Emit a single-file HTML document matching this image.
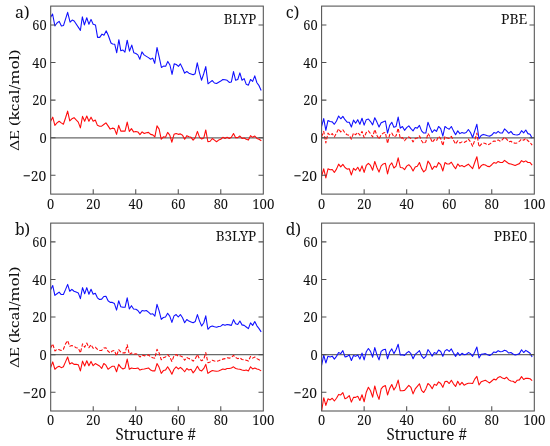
<!DOCTYPE html>
<html><head><meta charset="utf-8"><style>
html,body{margin:0;padding:0;background:#fff;}
body{width:550px;height:446px;overflow:hidden;}
svg{display:block;font-family:'Noto Serif', 'DejaVu Serif', 'Liberation Serif', serif;filter:blur(0.4px);}
</style></head><body>
<svg width="550" height="446" viewBox="0 0 550 446">
<defs>
<clipPath id="ca"><rect x="50.7" y="6.1" width="212.6" height="188"/></clipPath>
<clipPath id="cb"><rect x="50.7" y="223.1" width="212.6" height="187.9"/></clipPath>
<clipPath id="cc"><rect x="321.6" y="6.1" width="212.7" height="188"/></clipPath>
<clipPath id="cd"><rect x="321.6" y="223.1" width="212.7" height="187.9"/></clipPath>
</defs>
<g clip-path="url(#ca)" fill="none" stroke-linejoin="round">
<path d="M50.7 137.9H263.3" stroke="#6a6a6a" stroke-width="1.15"/>
<polyline points="50.62,17.27 52.58,14.00 54.87,25.95 57.00,23.00 59.13,21.36 61.42,25.95 63.55,25.45 67.64,12.36 70.09,22.18 72.22,20.05 74.18,21.04 80.40,30.36 82.36,16.78 84.33,24.96 86.78,17.76 88.91,24.31 91.04,19.40 93.16,24.31 95.46,24.96 97.58,37.40 99.71,37.40 102.00,34.13 103.96,35.27 106.26,30.86 108.22,35.27 111.00,42.96 112.64,43.95 114.76,44.27 116.73,52.78 118.86,39.69 120.82,50.82 122.95,50.00 124.91,52.13 127.20,40.18 129.49,51.15 131.78,45.09 133.84,52.84 135.89,53.55 137.85,54.86 139.82,59.27 141.95,51.91 144.07,54.86 146.36,56.33 148.49,57.64 150.62,59.27 152.75,58.13 154.71,63.36 157.00,47.49 159.13,56.82 161.42,67.46 163.55,66.15 165.67,66.31 167.80,61.40 169.93,65.00 172.06,74.33 174.18,63.86 176.31,64.51 178.44,66.31 180.40,63.86 182.53,68.27 184.66,73.18 186.78,71.55 188.91,73.18 191.04,74.00 193.16,74.82 195.13,73.67 197.26,62.87 199.38,72.36 201.51,80.22 203.64,74.00 205.77,66.64 208.06,83.82 210.18,82.18 212.31,80.55 214.44,83.00 216.57,83.49 220.75,81.09 222.87,79.46 225.00,79.78 227.13,80.27 229.26,82.40 231.38,81.91 233.51,71.60 235.64,80.27 237.76,79.46 239.89,72.91 242.02,80.27 244.15,78.64 246.27,84.36 248.40,85.18 250.53,79.46 252.66,81.42 254.78,75.86 256.91,82.73 259.04,85.67 261.17,90.42" stroke="#1010ff" stroke-width="1.08"/>
<polyline points="50.62,121.27 52.75,117.18 54.87,125.36 57.00,122.91 59.13,121.27 61.25,122.91 63.38,124.22 65.51,118.00 67.64,111.13 69.76,120.95 71.89,118.82 74.02,117.67 76.15,119.96 78.27,122.09 80.40,127.82 82.53,116.36 84.66,121.27 86.78,116.04 88.91,121.27 91.04,117.18 93.16,121.27 95.29,119.96 97.42,125.36 99.55,126.18 101.67,126.18 103.80,124.55 105.93,122.91 108.06,125.86 110.18,129.13 112.31,128.15 114.44,128.64 116.56,134.36 118.69,125.36 120.82,131.09 122.95,131.09 125.07,131.09 127.20,122.09 129.33,131.42 131.46,128.64 133.58,131.91 135.89,131.42 137.85,131.91 139.98,134.69 142.11,131.91 144.24,133.55 146.36,132.73 148.49,132.40 150.62,134.36 152.75,134.86 154.87,136.82 157.00,125.86 159.13,129.13 161.26,139.27 163.38,136.82 165.51,137.31 167.64,132.40 169.76,135.18 171.89,142.22 174.02,134.36 176.15,133.55 178.27,134.36 180.40,133.87 182.53,135.18 184.66,139.27 186.78,135.67 188.91,136.82 191.04,137.31 193.16,140.09 195.29,137.64 197.42,131.42 199.55,137.31 201.67,138.95 203.80,137.96 205.77,129.95 207.89,141.73 210.18,141.24 212.31,138.46 214.44,140.09 216.57,141.73 218.62,140.09 220.75,139.27 222.87,137.31 225.00,138.46 227.13,137.31 229.26,138.46 231.38,137.31 233.51,133.55 235.64,137.64 237.76,137.64 239.89,136.00 242.02,138.46 244.15,137.96 246.27,139.27 248.40,140.09 250.53,135.67 252.66,137.31 254.78,136.00 256.91,138.46 259.04,139.27 261.33,140.75" stroke="#ff0a0a" stroke-width="1.08"/>
</g>
<rect x="50.7" y="6.1" width="212.6" height="188" fill="none" stroke="#505050" stroke-width="1.05"/>
<path d="M50.7 175.3h4.8M263.3 175.3h-4.8M50.7 137.7h4.8M263.3 137.7h-4.8M50.7 100.1h4.8M263.3 100.1h-4.8M50.7 62.5h4.8M263.3 62.5h-4.8M50.7 24.9h4.8M263.3 24.9h-4.8M93.22 194.1v-4.8M135.74 194.1v-4.8M178.26 194.1v-4.8M220.78 194.1v-4.8" stroke="#505050" stroke-width="1.05" fill="none"/>
<g clip-path="url(#cb)" fill="none" stroke-linejoin="round">
<path d="M50.7 354.63H263.3" stroke="#6a6a6a" stroke-width="1.15"/>
<polyline points="50.62,289.64 52.75,285.55 54.87,295.36 57.00,293.73 59.13,292.09 61.25,294.55 63.38,294.55 65.51,289.64 67.64,284.40 69.76,291.27 71.89,289.31 74.02,291.27 76.15,292.09 78.27,292.91 80.40,298.64 82.53,287.67 84.66,293.73 86.78,287.67 88.91,294.22 91.04,289.31 93.16,294.22 95.29,293.24 97.42,297.82 99.55,299.46 101.67,299.13 103.80,296.51 105.93,296.18 108.06,300.76 110.18,302.40 112.31,302.40 114.44,303.55 116.56,310.09 118.69,300.76 120.82,306.82 122.95,307.31 125.07,307.31 127.20,297.82 129.33,308.95 131.46,305.67 133.58,308.95 135.89,309.31 137.85,310.45 139.98,313.40 142.11,310.45 144.24,310.95 146.36,310.45 148.49,312.09 150.62,314.22 152.75,313.73 154.87,316.18 157.00,304.40 159.13,310.95 161.26,319.46 163.38,317.49 165.51,317.00 167.64,313.24 169.76,316.18 171.89,322.40 174.02,315.86 176.15,314.55 178.27,317.00 180.40,314.55 182.53,317.82 184.66,322.73 186.78,319.46 188.91,321.09 191.04,321.91 193.16,322.73 195.29,321.42 197.42,314.55 199.55,321.09 201.67,326.00 203.80,322.73 205.77,315.86 207.89,329.27 210.18,326.82 212.31,326.00 214.44,326.82 216.57,327.31 218.62,326.51 220.75,326.18 222.87,324.55 225.00,325.36 227.13,324.55 229.26,324.87 231.38,325.36 233.51,319.64 235.64,323.73 237.76,324.55 239.89,320.95 242.02,324.87 244.15,325.36 246.27,327.00 248.40,328.64 250.53,322.91 252.66,325.36 254.78,321.60 256.91,325.86 259.04,328.64 261.17,331.91" stroke="#1010ff" stroke-width="1.08"/>
<polyline points="50.62,348.00 52.75,343.91 54.87,350.95 57.00,349.31 59.13,349.64 61.25,350.45 63.38,349.31 65.51,343.91 67.64,340.64 69.76,346.36 71.89,345.55 74.02,346.36 76.15,347.67 78.27,348.00 80.40,352.91 82.53,343.91 84.66,347.18 86.78,343.09 88.91,347.67 91.04,344.73 93.16,348.33 95.29,347.18 97.42,349.31 99.55,350.45 101.67,350.45 103.80,348.00 105.93,347.67 108.06,351.27 110.18,352.91 112.31,350.95 114.44,350.45 116.56,355.86 118.69,349.64 120.82,352.09 122.95,352.91 125.07,352.91 127.20,344.73 129.33,354.55 131.46,352.91 133.58,354.22 135.89,353.73 137.85,354.55 139.98,357.00 142.11,354.87 144.24,355.86 146.36,355.36 148.49,354.87 150.62,357.00 152.75,357.82 154.87,358.15 157.00,349.31 159.13,352.91 161.26,359.78 163.38,357.82 165.51,357.00 167.64,354.55 169.76,357.00 171.89,361.42 174.02,355.86 176.15,354.55 178.27,356.18 180.40,355.86 182.53,357.00 184.66,360.27 186.78,357.49 188.91,358.64 191.04,359.13 193.16,361.09 195.29,358.64 197.42,354.55 199.55,359.13 201.67,360.76 203.80,359.13 205.77,352.58 207.89,362.73 210.18,361.91 212.31,360.27 214.44,361.09 216.57,361.42 218.62,360.76 220.75,359.78 222.87,359.13 225.00,358.64 227.13,357.82 229.26,358.15 231.38,357.49 233.51,355.36 235.64,357.49 237.76,358.64 239.89,357.82 242.02,359.46 244.15,359.78 246.27,360.27 248.40,361.09 250.53,356.51 252.66,358.15 254.78,357.00 256.91,358.64 259.04,359.78 261.17,361.42" stroke="#ff0a0a" stroke-width="1.08" stroke-dasharray="3.6,1.7"/>
<polyline points="50.62,367.64 52.75,361.91 54.87,369.27 57.00,367.31 59.13,366.33 61.25,367.64 63.38,366.82 65.51,361.91 67.64,357.00 69.76,364.04 71.89,362.73 74.02,364.36 76.15,364.36 78.27,364.69 80.40,370.91 82.53,361.09 84.66,366.00 86.78,360.76 88.91,365.67 91.04,361.42 93.16,365.67 95.29,363.55 97.42,364.69 99.55,366.00 101.67,368.46 103.80,363.55 105.93,365.18 108.06,369.27 110.18,367.64 112.31,366.33 114.44,366.33 116.56,371.73 118.69,364.36 120.82,367.31 122.95,368.95 125.07,367.96 127.20,359.13 129.33,369.27 131.46,367.96 133.58,368.46 135.89,368.46 137.85,367.96 139.98,370.09 142.11,369.27 144.24,368.95 146.36,368.46 148.49,367.96 150.62,370.09 152.75,370.91 154.87,370.91 157.00,363.55 159.13,367.31 161.26,373.36 163.38,370.58 165.51,370.09 167.64,366.82 169.76,370.09 171.89,374.18 174.02,369.27 176.15,366.82 178.27,368.95 180.40,367.31 182.53,369.27 184.66,371.73 186.78,368.46 188.91,370.09 191.04,369.27 193.16,372.87 195.29,370.09 197.42,366.33 199.55,370.09 201.67,370.91 203.80,368.46 205.77,364.36 207.89,373.36 210.18,371.73 212.31,370.58 214.44,370.91 216.57,371.24 218.62,370.91 220.75,370.09 222.87,368.95 225.00,369.60 227.13,368.46 229.26,368.46 231.38,367.96 233.51,366.82 235.64,368.46 237.76,368.95 239.89,369.27 242.02,370.09 244.15,370.58 246.27,370.09 248.40,370.91 250.53,366.82 252.66,368.95 254.78,367.96 256.91,368.95 259.04,369.60 261.17,370.91" stroke="#ff0a0a" stroke-width="1.08"/>
</g>
<rect x="50.7" y="223.1" width="212.6" height="187.9" fill="none" stroke="#505050" stroke-width="1.05"/>
<path d="M50.7 392.21h4.8M263.3 392.21h-4.8M50.7 354.63h4.8M263.3 354.63h-4.8M50.7 317.05h4.8M263.3 317.05h-4.8M50.7 279.47h4.8M263.3 279.47h-4.8M50.7 241.89h4.8M263.3 241.89h-4.8M93.22 411.0v-4.8M135.74 411.0v-4.8M178.26 411.0v-4.8M220.78 411.0v-4.8" stroke="#505050" stroke-width="1.05" fill="none"/>
<g clip-path="url(#cc)" fill="none" stroke-linejoin="round">
<path d="M321.6 137.9H534.3" stroke="#6a6a6a" stroke-width="1.15"/>
<polyline points="321.60,126.48 323.73,118.57 325.85,130.33 327.98,120.44 330.11,121.54 332.24,121.87 334.36,124.29 336.49,120.99 338.62,116.04 340.74,118.79 342.87,116.37 345.00,119.67 347.12,122.09 349.25,122.31 351.38,127.03 353.50,120.11 355.63,123.19 357.76,119.67 359.89,124.29 362.01,118.24 364.14,125.16 366.27,119.67 368.39,119.01 370.52,121.54 372.65,124.84 374.78,117.69 376.90,122.09 379.03,127.03 381.16,122.64 383.28,121.87 385.41,120.99 387.54,133.08 389.66,125.38 391.79,122.31 393.92,127.36 396.05,126.48 398.17,117.14 400.30,128.13 402.43,126.48 404.55,130.33 406.68,127.58 408.81,125.93 410.93,128.68 413.06,130.88 415.19,127.58 417.31,128.13 419.44,125.38 421.57,130.88 423.70,133.08 425.82,133.08 427.95,122.31 430.08,127.58 432.20,132.53 434.33,129.78 436.46,131.43 438.59,126.48 440.71,128.68 442.84,136.15 444.97,126.48 447.09,128.13 449.22,129.23 451.35,126.48 453.47,130.88 455.60,134.73 457.73,130.88 459.86,133.63 461.98,132.53 464.11,133.30 466.24,132.53 468.36,129.56 470.49,132.53 472.62,137.47 474.74,130.88 476.87,124.29 479.00,138.79 481.12,135.49 483.25,134.40 485.38,135.05 487.51,135.82 489.63,136.15 491.76,135.05 493.89,132.53 496.01,133.30 498.14,131.43 500.27,133.08 502.39,133.08 504.52,128.90 506.65,130.88 508.78,133.30 510.90,131.43 513.03,134.18 515.16,134.73 517.28,135.05 519.41,134.18 521.54,130.66 523.66,132.86 525.79,130.00 527.92,133.63 530.05,134.18 532.17,138.35" stroke="#1010ff" stroke-width="1.08"/>
<polyline points="321.60,136.92 323.73,131.43 325.85,142.97 327.98,133.08 330.11,135.27 332.24,133.63 334.36,136.92 336.49,133.08 338.62,128.90 340.74,131.98 342.87,129.78 345.00,133.08 347.12,134.73 349.25,135.27 351.38,139.12 353.50,133.08 355.63,134.73 357.76,132.53 359.89,135.27 362.01,131.43 364.14,137.47 366.27,132.53 368.39,130.88 370.52,133.63 372.65,136.92 374.78,129.56 376.90,135.27 379.03,139.12 381.16,134.73 383.28,133.08 385.41,132.53 387.54,143.52 389.66,134.73 391.79,133.08 393.92,136.92 396.05,135.82 398.17,128.13 400.30,138.57 402.43,137.47 404.55,140.77 406.68,138.02 408.81,136.92 410.93,138.57 413.06,141.87 415.19,138.57 417.31,138.02 419.44,135.82 421.57,140.77 423.70,143.52 425.82,141.87 427.95,133.30 430.08,136.92 432.20,142.42 434.33,139.67 436.46,140.77 438.59,136.37 440.71,138.57 442.84,145.71 444.97,136.37 447.09,138.02 449.22,138.57 451.35,136.37 453.47,140.22 455.60,144.07 457.73,140.77 459.86,142.97 461.98,141.87 464.11,142.42 466.24,141.32 468.36,139.12 470.49,141.87 472.62,146.26 474.74,140.22 476.87,133.08 479.00,146.81 481.12,144.29 483.25,142.97 485.38,143.52 487.51,144.95 489.63,144.07 491.76,142.42 493.89,140.99 496.01,141.32 498.14,139.89 500.27,141.32 502.39,139.67 504.52,137.25 506.65,139.12 508.78,141.87 510.90,141.32 513.03,142.75 515.16,143.19 517.28,142.97 519.41,141.32 521.54,139.12 523.66,140.22 525.79,138.35 527.92,140.77 530.05,142.42 532.17,145.16" stroke="#ff0a0a" stroke-width="1.08" stroke-dasharray="3.6,1.7"/>
<polyline points="321.60,176.26 323.73,168.79 325.85,177.91 327.98,168.79 330.11,169.67 332.24,169.45 334.36,172.42 336.49,169.12 338.62,164.18 340.74,166.92 342.87,164.40 345.00,167.47 347.12,169.12 349.25,168.79 351.38,174.95 353.50,168.35 355.63,170.22 357.76,167.25 359.89,171.32 362.01,165.82 364.14,172.42 366.27,165.49 368.39,163.30 370.52,165.49 372.65,170.22 374.78,161.43 376.90,167.47 379.03,172.09 381.16,165.82 383.28,163.96 385.41,163.30 387.54,173.85 389.66,165.49 391.79,162.86 393.92,168.02 396.05,166.15 398.17,157.80 400.30,167.47 402.43,167.69 404.55,169.67 406.68,166.15 408.81,164.73 410.93,166.92 413.06,170.99 415.19,166.92 417.31,166.15 419.44,162.53 421.57,168.35 423.70,171.87 425.82,169.89 427.95,161.10 430.08,164.18 432.20,169.45 434.33,166.37 436.46,167.25 438.59,162.53 440.71,164.73 442.84,170.99 444.97,162.53 447.09,163.96 449.22,163.96 451.35,162.20 453.47,165.82 455.60,168.79 457.73,163.96 459.86,166.37 461.98,165.49 464.11,166.92 466.24,165.49 468.36,164.18 470.49,166.37 472.62,168.57 474.74,162.53 476.87,156.70 479.00,168.79 481.12,165.82 483.25,164.40 485.38,165.05 487.51,166.37 489.63,166.59 491.76,164.73 493.89,162.53 496.01,163.30 498.14,161.43 500.27,162.53 502.39,162.53 504.52,160.33 506.65,161.98 508.78,163.63 510.90,163.96 513.03,164.73 515.16,165.49 517.28,164.40 519.41,163.63 521.54,160.66 523.66,161.98 525.79,160.88 527.92,162.53 530.05,162.53 532.17,165.05" stroke="#ff0a0a" stroke-width="1.08"/>
</g>
<rect x="321.6" y="6.1" width="212.7" height="188" fill="none" stroke="#505050" stroke-width="1.05"/>
<path d="M321.6 175.3h4.8M534.3 175.3h-4.8M321.6 137.7h4.8M534.3 137.7h-4.8M321.6 100.1h4.8M534.3 100.1h-4.8M321.6 62.5h4.8M534.3 62.5h-4.8M321.6 24.9h4.8M534.3 24.9h-4.8M364.14 194.1v-4.8M406.68 194.1v-4.8M449.22 194.1v-4.8M491.76 194.1v-4.8" stroke="#505050" stroke-width="1.05" fill="none"/>
<g clip-path="url(#cd)" fill="none" stroke-linejoin="round">
<path d="M321.6 354.63H534.3" stroke="#6a6a6a" stroke-width="1.15"/>
<polyline points="321.60,365.38 323.73,355.05 325.85,362.97 327.98,356.15 330.11,356.92 332.24,356.15 334.36,359.12 336.49,356.37 338.62,352.53 340.74,353.63 342.87,350.66 345.00,356.92 347.12,356.37 349.25,355.05 351.38,360.55 353.50,355.49 355.63,356.37 357.76,355.05 359.89,359.12 362.01,353.08 364.14,359.89 366.27,351.76 368.39,348.46 370.52,351.43 372.65,357.25 374.78,347.58 376.90,354.73 379.03,359.89 381.16,351.43 383.28,349.78 385.41,349.23 387.54,358.79 389.66,351.98 391.79,348.90 393.92,353.63 396.05,349.78 398.17,344.29 400.30,355.05 402.43,354.73 404.55,355.49 406.68,352.86 408.81,351.43 410.93,353.63 413.06,358.79 415.19,354.40 417.31,352.53 419.44,350.66 421.57,355.82 423.70,358.35 425.82,356.37 427.95,349.56 430.08,352.53 432.20,356.15 434.33,352.53 436.46,353.63 438.59,350.00 440.71,351.43 442.84,356.37 444.97,350.88 447.09,349.56 449.22,351.43 451.35,348.90 453.47,353.08 455.60,356.37 457.73,352.53 459.86,355.49 461.98,353.30 464.11,354.73 466.24,354.40 468.36,352.53 470.49,353.63 472.62,356.37 474.74,351.98 476.87,347.03 479.00,358.02 481.12,354.40 483.25,353.96 485.38,353.63 487.51,354.73 489.63,355.49 491.76,354.18 493.89,351.98 496.01,352.53 498.14,350.66 500.27,351.76 502.39,351.43 504.52,350.33 506.65,351.10 508.78,353.08 510.90,352.53 513.03,353.96 515.16,355.05 517.28,354.40 519.41,353.63 521.54,349.78 523.66,352.53 525.79,350.33 527.92,351.76 530.05,353.30 532.17,356.92" stroke="#1010ff" stroke-width="1.08"/>
<polyline points="321.60,411.23 323.73,397.71 325.85,405.41 327.98,398.81 330.11,399.91 332.24,398.26 334.36,401.01 336.49,398.26 338.62,394.42 340.74,394.97 342.87,392.55 345.00,398.81 347.12,397.71 349.25,395.52 351.38,402.11 353.50,397.38 355.63,397.38 357.76,396.29 359.89,400.46 362.01,394.75 364.14,401.78 366.27,392.22 368.39,387.27 370.52,390.79 372.65,397.16 374.78,385.96 376.90,393.87 379.03,399.36 381.16,388.92 383.28,386.40 385.41,385.63 387.54,394.97 389.66,388.37 391.79,384.53 393.92,390.02 396.05,386.40 398.17,380.13 400.30,390.79 402.43,390.79 404.55,390.35 406.68,387.82 408.81,385.30 410.93,387.49 413.06,393.87 415.19,388.92 417.31,386.40 419.44,383.76 421.57,390.35 423.70,392.55 425.82,388.92 427.95,383.52 430.08,385.38 432.20,388.68 434.33,384.29 436.46,385.38 438.59,381.87 440.71,383.52 442.84,387.36 444.97,381.65 447.09,381.32 449.22,383.52 451.35,380.22 453.47,383.85 455.60,386.48 457.73,381.32 459.86,384.95 461.98,382.42 464.11,385.16 466.24,384.07 468.36,383.19 470.49,383.19 472.62,383.52 474.74,379.12 476.87,376.37 479.00,384.95 481.12,381.87 483.25,380.99 485.38,380.22 487.51,381.65 489.63,382.97 491.76,380.99 493.89,379.12 496.01,379.89 498.14,377.47 500.27,376.59 502.39,378.02 504.52,378.79 506.65,377.25 508.78,379.89 510.90,380.99 513.03,381.32 515.16,382.75 517.28,380.22 519.41,379.89 521.54,376.59 523.66,379.45 525.79,378.35 527.92,378.35 530.05,378.79 532.17,380.55" stroke="#ff0a0a" stroke-width="1.08"/>
</g>
<rect x="321.6" y="223.1" width="212.7" height="187.9" fill="none" stroke="#505050" stroke-width="1.05"/>
<path d="M321.6 392.21h4.8M534.3 392.21h-4.8M321.6 354.63h4.8M534.3 354.63h-4.8M321.6 317.05h4.8M534.3 317.05h-4.8M321.6 279.47h4.8M534.3 279.47h-4.8M321.6 241.89h4.8M534.3 241.89h-4.8M364.14 411.0v-4.8M406.68 411.0v-4.8M449.22 411.0v-4.8M491.76 411.0v-4.8" stroke="#505050" stroke-width="1.05" fill="none"/>
<g fill="#111">
<text x="46.2" y="180.65" text-anchor="end" font-size="14" textLength="23.5" lengthAdjust="spacingAndGlyphs">−20</text>
<text x="46.65" y="143.05" text-anchor="end" font-size="14" textLength="7.16" lengthAdjust="spacingAndGlyphs">0</text>
<text x="46.65" y="105.45" text-anchor="end" font-size="14" textLength="14.31" lengthAdjust="spacingAndGlyphs">20</text>
<text x="46.65" y="67.85" text-anchor="end" font-size="14" textLength="14.31" lengthAdjust="spacingAndGlyphs">40</text>
<text x="46.65" y="30.25" text-anchor="end" font-size="14" textLength="14.31" lengthAdjust="spacingAndGlyphs">60</text>
<text x="50.7" y="208.5" text-anchor="middle" font-size="14" textLength="7.16" lengthAdjust="spacingAndGlyphs">0</text>
<text x="93.22" y="208.5" text-anchor="middle" font-size="14" textLength="14.31" lengthAdjust="spacingAndGlyphs">20</text>
<text x="135.74" y="208.5" text-anchor="middle" font-size="14" textLength="14.31" lengthAdjust="spacingAndGlyphs">40</text>
<text x="178.26" y="208.5" text-anchor="middle" font-size="14" textLength="14.31" lengthAdjust="spacingAndGlyphs">60</text>
<text x="220.78" y="208.5" text-anchor="middle" font-size="14" textLength="14.31" lengthAdjust="spacingAndGlyphs">80</text>
<text x="263.3" y="208.5" text-anchor="middle" font-size="14" textLength="22.2" lengthAdjust="spacingAndGlyphs">100</text>
<text x="256.3" y="23.5" text-anchor="end" font-size="13.8" textLength="32.6" lengthAdjust="spacingAndGlyphs">BLYP</text>
<text x="14.9" y="18.2" text-anchor="start" font-size="16">a)</text>
<text x="46.2" y="397.56" text-anchor="end" font-size="14" textLength="23.5" lengthAdjust="spacingAndGlyphs">−20</text>
<text x="46.65" y="359.98" text-anchor="end" font-size="14" textLength="7.16" lengthAdjust="spacingAndGlyphs">0</text>
<text x="46.65" y="322.4" text-anchor="end" font-size="14" textLength="14.31" lengthAdjust="spacingAndGlyphs">20</text>
<text x="46.65" y="284.82" text-anchor="end" font-size="14" textLength="14.31" lengthAdjust="spacingAndGlyphs">40</text>
<text x="46.65" y="247.24" text-anchor="end" font-size="14" textLength="14.31" lengthAdjust="spacingAndGlyphs">60</text>
<text x="50.7" y="425.4" text-anchor="middle" font-size="14" textLength="7.16" lengthAdjust="spacingAndGlyphs">0</text>
<text x="93.22" y="425.4" text-anchor="middle" font-size="14" textLength="14.31" lengthAdjust="spacingAndGlyphs">20</text>
<text x="135.74" y="425.4" text-anchor="middle" font-size="14" textLength="14.31" lengthAdjust="spacingAndGlyphs">40</text>
<text x="178.26" y="425.4" text-anchor="middle" font-size="14" textLength="14.31" lengthAdjust="spacingAndGlyphs">60</text>
<text x="220.78" y="425.4" text-anchor="middle" font-size="14" textLength="14.31" lengthAdjust="spacingAndGlyphs">80</text>
<text x="263.3" y="425.4" text-anchor="middle" font-size="14" textLength="22.2" lengthAdjust="spacingAndGlyphs">100</text>
<text x="256.3" y="240.5" text-anchor="end" font-size="13.8" textLength="40.6" lengthAdjust="spacingAndGlyphs">B3LYP</text>
<text x="14.9" y="235.2" text-anchor="start" font-size="16" textLength="15.2" lengthAdjust="spacingAndGlyphs">b)</text>
<text x="317.1" y="180.65" text-anchor="end" font-size="14" textLength="23.5" lengthAdjust="spacingAndGlyphs">−20</text>
<text x="317.55" y="143.05" text-anchor="end" font-size="14" textLength="7.16" lengthAdjust="spacingAndGlyphs">0</text>
<text x="317.55" y="105.45" text-anchor="end" font-size="14" textLength="14.31" lengthAdjust="spacingAndGlyphs">20</text>
<text x="317.55" y="67.85" text-anchor="end" font-size="14" textLength="14.31" lengthAdjust="spacingAndGlyphs">40</text>
<text x="317.55" y="30.25" text-anchor="end" font-size="14" textLength="14.31" lengthAdjust="spacingAndGlyphs">60</text>
<text x="321.6" y="208.5" text-anchor="middle" font-size="14" textLength="7.16" lengthAdjust="spacingAndGlyphs">0</text>
<text x="364.14" y="208.5" text-anchor="middle" font-size="14" textLength="14.31" lengthAdjust="spacingAndGlyphs">20</text>
<text x="406.68" y="208.5" text-anchor="middle" font-size="14" textLength="14.31" lengthAdjust="spacingAndGlyphs">40</text>
<text x="449.22" y="208.5" text-anchor="middle" font-size="14" textLength="14.31" lengthAdjust="spacingAndGlyphs">60</text>
<text x="491.76" y="208.5" text-anchor="middle" font-size="14" textLength="14.31" lengthAdjust="spacingAndGlyphs">80</text>
<text x="534.3" y="208.5" text-anchor="middle" font-size="14" textLength="22.2" lengthAdjust="spacingAndGlyphs">100</text>
<text x="527.3" y="23.5" text-anchor="end" font-size="13.8" textLength="26.3" lengthAdjust="spacingAndGlyphs">PBE</text>
<text x="285.8" y="18.2" text-anchor="start" font-size="16">c)</text>
<text x="317.1" y="397.56" text-anchor="end" font-size="14" textLength="23.5" lengthAdjust="spacingAndGlyphs">−20</text>
<text x="317.55" y="359.98" text-anchor="end" font-size="14" textLength="7.16" lengthAdjust="spacingAndGlyphs">0</text>
<text x="317.55" y="322.4" text-anchor="end" font-size="14" textLength="14.31" lengthAdjust="spacingAndGlyphs">20</text>
<text x="317.55" y="284.82" text-anchor="end" font-size="14" textLength="14.31" lengthAdjust="spacingAndGlyphs">40</text>
<text x="317.55" y="247.24" text-anchor="end" font-size="14" textLength="14.31" lengthAdjust="spacingAndGlyphs">60</text>
<text x="321.6" y="425.4" text-anchor="middle" font-size="14" textLength="7.16" lengthAdjust="spacingAndGlyphs">0</text>
<text x="364.14" y="425.4" text-anchor="middle" font-size="14" textLength="14.31" lengthAdjust="spacingAndGlyphs">20</text>
<text x="406.68" y="425.4" text-anchor="middle" font-size="14" textLength="14.31" lengthAdjust="spacingAndGlyphs">40</text>
<text x="449.22" y="425.4" text-anchor="middle" font-size="14" textLength="14.31" lengthAdjust="spacingAndGlyphs">60</text>
<text x="491.76" y="425.4" text-anchor="middle" font-size="14" textLength="14.31" lengthAdjust="spacingAndGlyphs">80</text>
<text x="534.3" y="425.4" text-anchor="middle" font-size="14" textLength="22.2" lengthAdjust="spacingAndGlyphs">100</text>
<text x="527.3" y="240.5" text-anchor="end" font-size="13.8" textLength="33.6" lengthAdjust="spacingAndGlyphs">PBE0</text>
<text x="285.8" y="235.2" text-anchor="start" font-size="16" textLength="15" lengthAdjust="spacingAndGlyphs">d)</text>
<text transform="translate(18.5,100.1) rotate(-90)" text-anchor="middle" font-size="13.4" textLength="101" lengthAdjust="spacingAndGlyphs">ΔE (kcal/mol)</text>
<text transform="translate(18.5,317.05) rotate(-90)" text-anchor="middle" font-size="13.4" textLength="101" lengthAdjust="spacingAndGlyphs">ΔE (kcal/mol)</text>
<text x="155.7" y="439.6" text-anchor="middle" font-size="15.9" textLength="80.5" lengthAdjust="spacingAndGlyphs">Structure #</text>
<text x="426.65" y="439.6" text-anchor="middle" font-size="15.9" textLength="80.5" lengthAdjust="spacingAndGlyphs">Structure #</text>
</g>
</svg>
</body></html>
